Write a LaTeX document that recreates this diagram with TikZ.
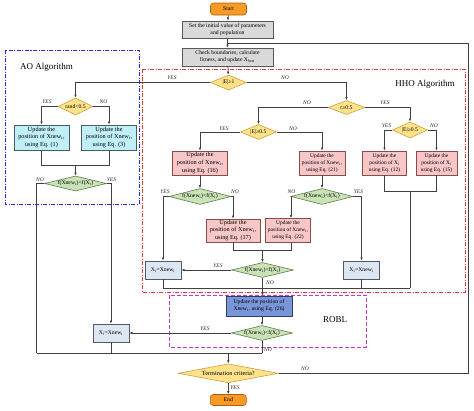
\documentclass[tikz,border=0pt]{standalone}
\usepackage{fontspec}
\setmainfont{Liberation Serif}
\usetikzlibrary{shapes.geometric,arrows.meta}
\definecolor{lc}{HTML}{404040}
\definecolor{orf}{HTML}{F79A26}\definecolor{ord}{HTML}{B35E0B}
\definecolor{grf}{HTML}{D9D9D9}\definecolor{grd}{HTML}{595959}
\definecolor{yef}{HTML}{FFE28A}\definecolor{yed}{HTML}{C9A13B}
\definecolor{cyf}{HTML}{BFEFF7}\definecolor{cyd}{HTML}{4D5A5E}
\definecolor{pkf}{HTML}{F7C6C7}\definecolor{pkd}{HTML}{8A4B4B}
\definecolor{gnf}{HTML}{C9E2B6}\definecolor{gnd}{HTML}{5E7F4A}
\definecolor{lbf}{HTML}{DCE7F3}\definecolor{lbd}{HTML}{4F5B6B}
\definecolor{rbf}{HTML}{7896D8}\definecolor{rbd}{HTML}{2E3D6B}
\definecolor{bluefr}{HTML}{2828E6}
\definecolor{redfr}{HTML}{EB3540}
\definecolor{purfr}{HTML}{BE3CC8}
\begin{document}
\begin{tikzpicture}[x=1pt,y=-1pt,
  line/.style={draw=lc, line width=0.75pt},
  arr/.style={line, -{Latex[length=3.2pt,width=2.6pt]}},
  txt/.style={font=\fontsize{5.7}{7}\selectfont, align=center, text=black},
  wide/.style={font=\fontsize{6.2}{7.6}\selectfont},
  narrow/.style={font=\fontsize{5.4}{7.2}\selectfont},
  bx/.style n args={4}{rectangle, draw=#2, fill=#1, line width=0.6pt, inner sep=0pt, minimum width=#3, minimum height=#4, txt},
  term/.style 2 args={rectangle, rounded corners=3pt, draw=ord, fill=orf, line width=0.6pt, inner sep=0pt, minimum width=#1, minimum height=#2, txt},
  dia/.style n args={4}{diamond, draw=#2, fill=#1, line width=0.6pt, inner sep=0pt, minimum width=#3, minimum height=#4, txt},
  lab/.style={font=\fontsize{5.5}{6}\selectfont\itshape, inner sep=0pt, text=black!85},
  big/.style={font=\fontsize{9}{10}\selectfont, inner sep=0pt},
  frame/.style={line width=0.9pt}
]
\useasboundingbox (0,0) rectangle (474,410);

% frames
\draw[frame, bluefr, dash pattern=on 4pt off 1.5pt on 1pt off 1.5pt] (5,50) rectangle (139,204);
\draw[frame, redfr, dash pattern=on 4pt off 1.5pt on 1pt off 1.5pt] (142,69) rectangle (465,292);
\draw[frame, purfr, dash pattern=on 4pt off 2pt] (169,295) rectangle (366,347);
\node[big] (aol) at (46.5,67) {AO Algorithm};
\node[big] (hhol) at (425,84) {HHO Algorithm};
\node[big] (robll) at (335,320) {ROBL};

% top
\node[term={36pt}{12pt}] (st) at (228.5,9) {Start};
\node[bx={grf}{grd}{91pt}{17pt}] (init) at (227.5,29.5) {Set the initial value of parameters\\and population};
\node[bx={grf}{grd}{91pt}{18pt}] (chk) at (227.5,57) {Check boundaries, calculate\\fitness, and update X\textsubscript{best}};
\node[dia={yef}{yed}{36pt}{15pt}] (d1) at (228.5,82.5) {\makebox[0pt]{|E|≥1}};

% AO
\node[dia={yef}{yed}{35pt}{17pt}] (rd) at (75.5,106.5) {\makebox[0pt]{rand<0.5}};
\node[bx={cyf}{cyd}{55pt}{25pt}, wide] (ao1) at (41.5,137.5) {Update the\\position of Xnew\textsubscript{i},\\using Eq. (1)};
\node[bx={cyf}{cyd}{55pt}{25pt}, wide] (ao2) at (109,137.5) {Update the\\position of Xnew\textsubscript{i},\\using Eq. (3)};
\node[dia={gnf}{gnd}{62pt}{15pt}] (aog) at (75.5,183.5) {\makebox[0pt]{f(Xnew\textsubscript{i})<f(X\textsubscript{i})}};
\node[bx={lbf}{lbd}{36pt}{18pt}] (xa) at (111,333) {X\textsubscript{i}=Xnew\textsubscript{i}};

% HHO
\node[dia={yef}{yed}{37pt}{14pt}] (dr) at (346.5,107.5) {\makebox[0pt]{r≥0.5}};
\node[dia={yef}{yed}{36pt}{15pt}] (e2) at (258.5,132) {\makebox[0pt]{|E|≥0.5}};
\node[dia={yef}{yed}{35pt}{16pt}] (e3) at (410,130) {\makebox[0pt]{|E|≥0.5}};
\node[bx={pkf}{pkd}{55pt}{24pt}, wide] (h16) at (200,163) {Update the\\position of Xnew\textsubscript{i},\\using Eq. (16)};
\node[bx={pkf}{pkd}{46pt}{24pt}, narrow] (h21) at (322,163) {Update the\\position of Xnew\textsubscript{i},\\using Eq. (21)};
\node[bx={pkf}{pkd}{44pt}{24pt}, narrow] (h12) at (384.5,163) {Update the\\position of X\textsubscript{i}\\using Eq. (12)};
\node[bx={pkf}{pkd}{41pt}{24pt}, narrow] (h15) at (436.5,163) {Update the\\position of X\textsubscript{i}\\using Eq. (15)};
\node[dia={gnf}{gnd}{62pt}{16pt}] (g1) at (200,196.5) {\makebox[0pt]{f(Xnew\textsubscript{i})<f(X\textsubscript{i})}};
\node[dia={gnf}{gnd}{62pt}{16pt}] (g2) at (322,196.5) {\makebox[0pt]{f(Xnew\textsubscript{i})<f(X\textsubscript{i})}};
\node[bx={pkf}{pkd}{54pt}{23pt}, wide] (h17) at (233,230.5) {Update the\\position of Xnew\textsubscript{i},\\using Eq. (17)};
\node[bx={pkf}{pkd}{45pt}{24pt}, narrow] (h22) at (288,230.5) {Update the\\position of Xnew\textsubscript{i},\\using Eq. (22)};
\node[dia={gnf}{gnd}{62pt}{15pt}] (g3) at (262.5,270) {\makebox[0pt]{f(Xnew\textsubscript{i})<f(X\textsubscript{i})}};
\node[bx={lbf}{lbd}{36pt}{18pt}] (xh1) at (163,270) {X\textsubscript{i}=Xnew\textsubscript{i}};
\node[bx={lbf}{lbd}{36pt}{18pt}] (xh2) at (361.5,270) {X\textsubscript{i}=Xnew\textsubscript{i}};

% ROBL
\node[bx={rbf}{rbd}{66pt}{20pt}] (rbu) at (259,306) {Update the position of\\Xnew\textsubscript{i}, using Eq. (26)};
\node[dia={gnf}{gnd}{61pt}{15pt}] (rbd) at (262,333) {\makebox[0pt]{f(Xnew\textsubscript{i})<f(X\textsubscript{i})}};

% bottom
\node[dia={yef}{yed}{100pt}{19pt}, font=\fontsize{6.3}{7}\selectfont] (tc) at (228.3,373.3) {\makebox[0pt]{Termination criteria?}};
\node[term={36pt}{11pt}] (en) at (228.3,400) {End};

% coordinates
\coordinate (jA) at (75.5,165);
\coordinate (bl) at (36.7,353);
\coordinate (jB) at (262,353);
\coordinate (jR1) at (410,191.7);
\coordinate (jR2) at (410,288);
\coordinate (j3) at (262.5,250);
\coordinate (lp1) at (468,373.3);
\coordinate (lp2) at (468,43);
\coordinate (lp3) at (227.5,43);

% connectors top
\draw[arr] (st) -- (init);
\draw[arr] (init) -- (chk);
\draw[arr] (chk) -- (d1);
\draw[arr] (d1.west) -| (rd.north);
\draw[arr] (d1.east) -| (dr.north);
% AO
\draw[arr] (rd.west) -| (ao1.north);
\draw[arr] (rd.east) -| (ao2.north);
\draw[line] (ao1.south) |- (jA);
\draw[line] (ao2.south) |- (jA);
\draw[arr] (jA) -- (aog.north);
\draw[line] (aog.west) -| (bl);
\draw[line] (bl) -- (jB);
\draw[arr] (aog.east) -| (xa.north);
\draw[line] (xa.south) -- (xa.south |- bl);
% HHO
\draw[arr] (dr.west) -| (e2.north);
\draw[arr] (dr.east) -| (e3.north);
\draw[arr] (e2.west) -| (h16.north);
\draw[arr] (e2.east) -| (h21.north);
\draw[arr] (e3.west) -| (h12.north);
\draw[arr] (e3.east) -| (h15.north);
\draw[line] (h12.south) |- (jR1);
\draw[line] (h15.south) |- (jR1);
\draw[line] (jR1) -- (jR2);
\draw[arr] (h16) -- (g1);
\draw[arr] (h21) -- (g2);
\draw[arr] (g1.west) -| (xh1.north);
\draw[arr] (g1.east) -| (h17.north);
\draw[arr] (g2.west) -| ([xshift=3pt]h22.north);
\draw[arr] (g2.east) -| (xh2.north);
\draw[line] (h17.south) |- (j3);
\draw[line] ([xshift=3pt]h22.south) |- (j3);
\draw[arr] (j3) -- (g3.north);
\draw[arr] (g3.west) -- (xh1.east);
\draw[line] (xh1.south) |- (jR2);
\draw[line] (xh2.south) -- (xh2.south |- jR2);
\draw[arr] (g3.south) -- (g3.south |- rbu.north);
% ROBL
\draw[arr] (rbd.north |- rbu.south) -- (rbd.north);
\draw[arr] (rbd.west) -- (xa.east);
\draw[line] (rbd.south) -- (jB);
\draw[arr] (tc.north |- jB) -- (tc.north);
\draw[arr] (tc) -- (en);
\draw[line] (tc.east) -- (lp1) -- (lp2) -- (lp3);

% labels
\node[lab] at (172,77.5) {YES};
\node[lab] at (285,77.5) {NO};
\node[lab] at (47,102) {YES};
\node[lab] at (103.5,102) {NO};
\node[lab] at (40,180) {NO};
\node[lab] at (111.5,180) {YES};
\node[lab] at (307,102.5) {NO};
\node[lab] at (385,102.5) {YES};
\node[lab] at (224,128.5) {YES};
\node[lab] at (293,128.5) {NO};
\node[lab] at (386.5,126) {YES};
\node[lab] at (434,126) {NO};
\node[lab] at (165,192) {YES};
\node[lab] at (235,192) {NO};
\node[lab] at (291.5,192) {NO};
\node[lab] at (358.5,192) {YES};
\node[lab] at (218,265.5) {YES};
\node[lab] at (270,283) {NO};
\node[lab] at (205,329) {YES};
\node[lab] at (268,350) {NO};
\node[lab] at (305,369) {NO};
\node[lab] at (235,388) {YES};
\end{tikzpicture}
\end{document}
